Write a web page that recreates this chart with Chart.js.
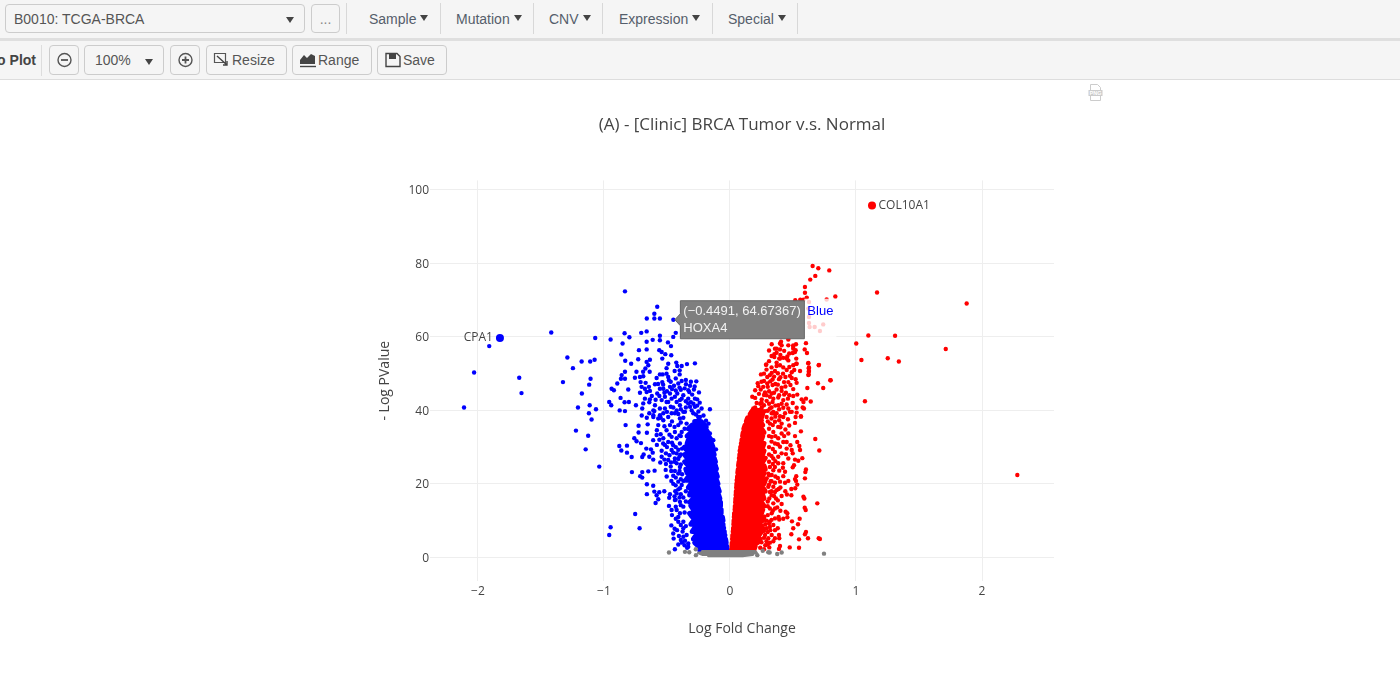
<!DOCTYPE html>
<html>
<head>
<meta charset="utf-8">
<title>BRCA volcano plot</title>
<script src="https://cdn.jsdelivr.net/npm/chart.js@4"></script>
<style>
  html, body { margin: 0; padding: 0; background: #fff; overflow: hidden; }
  body { width: 1400px; height: 700px; position: relative; font: 14px "Liberation Sans", Arial, sans-serif; color: #555; }
  #plot { position: absolute; left: 0; top: 0; width: 1400px; height: 700px; }
  .bar { position: absolute; left: 0; width: 1400px; background: #f5f5f5; overflow: hidden; }
  .bar > * { position: absolute; box-sizing: border-box; white-space: nowrap; }
  #bar1 { top: 0; height: 38px; }
  #bar2 { top: 41px; height: 38px; }
  #gap { position: absolute; top: 38px; left: 0; width: 1400px; height: 3px; background: #dfdfdf; }
  #line2 { position: absolute; top: 79px; left: 0; width: 1400px; height: 1px; background: #ddd; }
  .sep { top: 3px; width: 1px; height: 31px; background: #d8d8d8; }
  .btn { border: 1px solid #ccc; border-radius: 4px; background: #f5f5f5; height: 30px; line-height: 28px; }
  .menu { top: 11px; line-height: 17px; color: #555e6b; }
  .caret { position: absolute; width: 0; height: 0; border-left: 4px solid transparent; border-right: 4px solid transparent; border-top: 6px solid #444; }
  .btn svg { position: absolute; left: 6px; top: 5px; }
  #png { position: absolute; left: 1088px; top: 84px; }
</style>
</head>
<body>
<canvas id="plot" width="1400" height="700"></canvas>

<div class="bar" id="bar1">
  <div class="btn" style="left:5px;top:4px;width:300px;padding-left:8px;height:29px;">B0010: TCGA-BRCA<span class="caret" style="left:280px;top:12px"></span></div>
  <div class="btn" style="left:311px;top:4px;width:29px;height:29px;text-align:center;color:#888;">...</div>
  <div class="sep" style="left:346px"></div>
  <div class="menu" style="left:369px">Sample<span class="caret" style="left:51px;top:4px"></span></div>
  <div class="sep" style="left:440px"></div>
  <div class="menu" style="left:456px">Mutation<span class="caret" style="left:58px;top:4px"></span></div>
  <div class="sep" style="left:533px"></div>
  <div class="menu" style="left:549px">CNV<span class="caret" style="left:34px;top:4px"></span></div>
  <div class="sep" style="left:602px"></div>
  <div class="menu" style="left:619px">Expression<span class="caret" style="left:73px;top:4px"></span></div>
  <div class="sep" style="left:712px"></div>
  <div class="menu" style="left:728px">Special<span class="caret" style="left:50px;top:4px"></span></div>
  <div class="sep" style="left:797px"></div>
</div>
<div id="gap"></div>
<div class="bar" id="bar2">
  <div style="left:-100px;width:136px;text-align:right;top:11px;font-weight:bold;color:#444;">Volcano Plot</div>
  <div class="sep" style="left:41px;top:4px;background:#ddd"></div>
  <div class="btn" style="left:49px;top:4px;width:30px;">
    <svg width="18" height="18" viewBox="0 0 18 18"><circle cx="8.5" cy="9" r="6.5" fill="none" stroke="#555" stroke-width="1.4"/><path d="M5 9h7" stroke="#555" stroke-width="1.8"/></svg>
  </div>
  <div class="btn" style="left:84px;top:4px;width:80px;padding-left:10px;">100%<span class="caret" style="left:60px;top:13px"></span></div>
  <div class="btn" style="left:170px;top:4px;width:30px;">
    <svg width="18" height="18" viewBox="0 0 18 18"><circle cx="8.5" cy="9" r="6.5" fill="none" stroke="#555" stroke-width="1.4"/><path d="M5 9h7M8.5 5.5v7" stroke="#555" stroke-width="1.8"/></svg>
  </div>
  <div class="btn" style="left:206px;top:4px;width:81px;padding-left:25px;">Resize
    <svg width="18" height="18" viewBox="0 0 18 18"><path d="M1.5 2.5h11v9h-11z" fill="none" stroke="#555" stroke-width="1.2"/><path d="M4 5l10 9M14 10v4h-4" fill="none" stroke="#444" stroke-width="1.4"/></svg>
  </div>
  <div class="btn" style="left:292px;top:4px;width:80px;padding-left:25px;">Range
    <svg width="18" height="18" viewBox="0 0 18 18"><path d="M1 13V9l4-5 3 3 4-4 4 2v8z" fill="#444"/><path d="M1 15.5h16" stroke="#444" stroke-width="1.4"/></svg>
  </div>
  <div class="btn" style="left:377px;top:4px;width:70px;padding-left:25px;">Save
    <svg width="18" height="18" viewBox="0 0 18 18"><path d="M2 2.5h11l3 3v10H2z" fill="none" stroke="#444" stroke-width="1.4"/><path d="M5 3h7v5H5z" fill="#444"/></svg>
  </div>
</div>
<div id="line2"></div>
<svg id="png" width="15" height="17" viewBox="0 0 15 17">
  <path d="M2.5 .5h7l3 3v13h-10z" fill="#fff" stroke="#ccc"/>
  <rect x=".5" y="6" width="14" height="6" fill="#ccc"/>
  <text x="7.5" y="11" font-size="5.5" font-family="Liberation Sans" font-weight="bold" text-anchor="middle" fill="#fff">PNG</text>
</svg>

<script>
const titleText = '(A) - [Clinic] BRCA Tumor v.s. Normal';
const xTitle = 'Log Fold Change';
const yTitle = '- Log PValue';
const xTicks = [-2, -1, 0, 1, 2];
const yTicks = [0, 20, 40, 60, 80, 100];

const bigRed = [[1.127, 95.8]];
const bigBlue = [[-1.825, 59.7]];
const bigRedName = 'COL10A1';
const bigBlueName = 'CPA1';
const hoverPoint = [-0.4491, 64.67367];
const hoverName = 'HOXA4';
const hoverTrace = 'Blue';

// one [logFC, -logP] per visible dot
const bluePoints = [
  [-0.833,72.4],[-0.577,68.2],[-0.6,66.3],[-0.66,65],[-0.6,65],[-0.556,65],[-0.4491,64.67],[-1.418,61.2],[-1.069,59.7],
  [-1.91,57.5],[-2.03,50.3],[-1.672,48.9],[-1.654,44.7],[-2.11,40.8],[-1.29,54.4],[-1.246,51.5],[-1.177,53.3],[-1.109,53.3],
  [-1.074,53.8],[-1.325,47.7],[-1.106,48.6],[-1.117,47],[-1.175,44.6],[-1.206,40.8],[-1.113,41.4],[-1.063,40.3],[-1.119,39.2],
  [-1.098,37.5],[-1.222,34.5],[-1.125,33.1],[-1.145,29.4],[-1.037,24.7],[-0.828,36],[-0.725,35.8],[-0.725,34],[-0.659,33.9],
  [-0.759,32.4],[-0.741,31.6],[-0.706,31.1],[-0.878,30.3],[-0.817,30.4],[-0.862,29.1],[-0.817,28.5],[-0.78,27.3],[-0.778,23.2],
  [-0.696,23.2],[-0.712,22.1],[-0.696,21.7],[-0.648,23.4],[-0.598,23.6],[-0.659,19.9],[-0.609,19.5],[-0.659,17.2],[-0.6,17.9],
  [-0.561,17.7],[-0.521,18],[-0.582,16.9],[-0.569,15.8],[-0.59,14.8],[-0.752,11.8],[-0.717,7.9],[-0.947,8.2],[-0.958,6.1],
  [-0.484,14],[-0.447,5.1],[-0.437,2.2],[-0.465,8.7],[-0.439,7.8],[-0.405,5.8],[-0.381,4],[-0.664,29.6],[-0.627,29.4],
  [-0.58,30.6],[-0.542,29],[-0.685,28],[-0.696,27.3],[-0.613,28.5],[-0.64,27.4],[-0.609,26.6],[-0.542,27.4],[-0.553,25.8],
  [-0.508,25.4],[-0.51,23.8],[-0.468,25.8],[-0.466,23.5],[-0.437,23.5],[-0.45,22.2],[-0.502,22],[-0.465,20.8],[-0.431,19.6],
  [-0.434,18],[-0.476,17.2],[-0.482,16.2],[-0.431,15.7],[-0.463,12.9],[-0.653,36.2],[-0.582,33.3],[-0.609,31.9],[-0.529,32.4],
  [-0.516,30.6],[-0.508,28.3],[-0.58,34.6],
  [-0.836,61],[-0.704,61.1],[-0.661,61.5],[-0.798,59.9],[-0.947,59.3],[-0.852,58.2],[-0.556,60.3],[-0.556,59.1],[-0.613,59.2],
  [-0.661,58.7],[-0.43,61.1],[-0.45,60],[-0.492,58.5],[-0.468,57.5],[-0.661,56.6],[-0.722,56.4],[-0.561,56.4],[-0.542,55.9],
  [-0.513,55.3],[-0.466,55],[-0.862,55.2],[-0.537,54.1],[-0.728,53.9],[-0.831,53.5],[-0.784,52.7],[-0.635,53.8],[-0.661,53.2],
  [-0.648,52.3],[-0.49,52.7],[-0.426,53],[-0.418,52.1],[-0.383,52.1],[-0.341,52.6],[-0.278,52.8],[-0.439,50.7],[-0.399,50.9],
  [-0.399,49.8],[-0.503,51.5],[-0.671,51.4],[-0.689,50.5],[-0.742,50.5],[-0.637,50.5],[-0.833,50.5],[-0.859,49.6],[-0.833,48.6],
  [-0.865,48.6],[-0.894,47.3],[-0.714,49.1],[-0.688,49.3],[-0.754,48.9],[-0.709,47.7],[-0.556,49.8],[-0.534,49.8],[-0.503,50],
  [-0.49,49.1],[-0.582,48.8],[-0.484,48.2],[-0.537,47.7],[-0.669,47.5],[-0.595,47.1],[-0.643,46.4],[-0.701,46.4],[-0.675,45.9],
  [-0.714,44.8],[-0.661,45],[-0.635,45.3],[-0.939,45.9],[-0.921,45.5],[-0.807,45.7],[-0.868,43.4],[-0.836,42.2],[-0.802,42.3],
  [-0.958,42.3],[-0.942,41.4],[-0.746,41.4],[-0.875,40],[-0.833,39.8],[-0.696,40.5],[-0.635,43],[-0.688,41.9],[-0.675,43.2],
  [-0.577,44.6],[-0.556,45.9],[-0.529,45.9],[-0.476,46.4],[-0.444,46.7],[-0.41,47.3],[-0.383,48],[-0.349,47.1],[-0.317,46.7],
  [-0.267,47.9],[-0.286,45.7],[-0.246,44.9],[-0.323,45],[-0.418,44.6],[-0.476,44.6],[-0.516,43.7],[-0.542,42.8],[-0.503,42.3],
  [-0.463,43.2],[-0.423,42.3],[-0.383,43.2],[-0.331,43.2],[-0.278,43.2],[-0.278,41],[-0.225,40.5],[-0.159,40.3],[-0.238,38.2],
  [-0.317,41],[-0.397,41.4],[-0.516,40.5],[-0.556,40.5],[-0.595,41.4],[-0.608,40],[-0.608,38.2],[-0.569,37.8],[-0.529,39.2],
  [-0.397,18.8],[-0.423,17.4],[-0.37,16.3],[-0.397,15.1],[-0.37,13.8],[-0.423,12.9],[-0.41,11],[-0.37,9.7],[-0.41,9.7],
  [-0.37,7.9],[-0.344,6.1],[-0.331,3.8],[-0.331,2.9],[-0.357,4.5],[-0.376,7],[-0.397,12],[-0.437,15.6],[-0.41,20.6],
  [-0.383,19.7],[-0.41,22.8],[-0.397,24.6],[-0.423,25.6],[-0.437,26.9],[-0.423,28.3],[-0.463,29.2],[-0.45,30.5],[-0.49,31.4],
  [-0.463,32.8],[-0.437,34.1],[-0.503,34.6],[-0.476,36],[-0.529,37.3],[-0.569,36],[-0.608,38.7],[-0.556,38.7],[-0.49,38.2],
  [-0.437,39.2],[-0.397,37.8],[-0.357,39.6],[-0.291,39.2],[-0.252,38.2],[-0.225,36],[-0.159,33.7],[-0.185,35.5],[-0.111,29.4],
  [-0.132,31.9],[-0.106,24.2],[-0.41,36],[-0.383,34.1],[-0.344,36.4],[-0.304,34.6],[-0.423,32.4],[-0.397,31]
];

// the thick band just above and left of the solid blue wedge, estimated
const blueBand = [
  [-0.49,42.3],[-0.437,43.7],[-0.397,42.8],[-0.37,44.1],[-0.331,41.9],[-0.304,40],[-0.37,39.6],[-0.423,40],[-0.463,39.2],[-0.5,39.6],
  [-0.55,38],[-0.47,41],[-0.45,40.8],[-0.41,39],[-0.39,40.3],[-0.35,40.8],[-0.35,42.5],[-0.31,42.2],[-0.29,41.8],[-0.26,41.3],
  [-0.25,39.7],[-0.27,38.9],[-0.21,38.6],[-0.19,37.2],[-0.17,36.4],[-0.3,44.3],[-0.33,45.5],[-0.36,46],[-0.39,45.6],[-0.43,45.4],
  [-0.46,45.8],[-0.5,45.2],[-0.52,44.8],[-0.56,43.9],[-0.59,42.9],[-0.62,43.9],[-0.64,42.2],[-0.6,39.8],[-0.64,39.2],[-0.66,38],
  [-0.7,38.6],[-0.57,47.2],[-0.53,47],[-0.47,47.8],[-0.43,48.7],[-0.4,46.2],[-0.35,48.3],[-0.31,47.8],[-0.28,46.5],[-0.26,43],
  [-0.24,42.1],[-0.39,36.7],[-0.37,38],[-0.36,35],[-0.4,33.2],[-0.44,35.5],[-0.46,37],[-0.48,33.4],[-0.52,35.7],[-0.55,33.5],
  [-0.5,30],[-0.53,31],[-0.56,32],[-0.46,31.2],[-0.43,30],[-0.41,29.3],[-0.48,27.8],[-0.45,28.5],[-0.52,26.6],[-0.44,26],
  [-0.47,24.7],[-0.49,26.5],[-0.41,26.8],[-0.39,28],[-0.4,23.5],[-0.43,21.7],[-0.39,21.3],[-0.45,20],[-0.41,18.5],[-0.39,17.2],
  [-0.44,16.6],[-0.4,16.3],[-0.46,11.5],[-0.43,10.5],[-0.39,8.8],[-0.42,7.4],[-0.35,8.5],[-0.37,5.6],[-0.39,4.7],[-0.36,3.3],
  [-0.34,2.6],[-0.41,3.5],[-0.45,6.5],[-0.43,13.8],[-0.39,14.2],[-0.36,12.2],[-0.35,15.2],[-0.35,18],[-0.37,20.8],[-0.38,22.6],
  [-0.39,25.3],[-0.4,27.5],[-0.38,29.6],[-0.39,33]
];

const redPoints = [
  [0.656,79.3],[0.701,78.7],[0.788,78.1],[0.677,76.6],[0.637,75.6],[0.595,73.6],[0.595,72],[0.836,71],[1.167,72.1],[1.878,69.1],
  [0.609,70.7],[0.583,70.1],[0.558,70.1],[0.518,70],[0.767,70.2],[0.627,69.5],[0.622,67.7],[0.627,65.4],[0.627,63.8],[0.672,62.7],
  [0.714,61.6],[0.74,63.4],[0.632,62.7],[1.098,60.4],[1.31,60.3],[1.002,58.2],[1.712,56.7],[1.043,53.7],[1.252,54.2],[1.34,53.3],
  [1.071,42.5],[0.704,52.3],[0.796,48.2],[0.698,47.4],[0.74,46.1],[2.28,22.4],[0.397,58.2],[0.463,59.3],[0.502,57.3],[0.357,56.8],
  [0.516,55.9],[0.45,54.1],[0.397,54.1],[0.286,52.4],[0.529,52.7],[0.622,52.9],[0.627,51.7],[0.625,50.5],[0.622,49.6],
  [0.331,58],[0.405,58.7],[0.41,57.7],[0.37,56.8],[0.397,56.6],[0.463,57.7],[0.502,57.7],[0.524,58],[0.502,56.8],[0.521,56.4],
  [0.498,55.6],[0.603,58.3],[0.593,56.6],[0.611,55.6],[0.352,55.3],[0.352,54.5],[0.391,54.1],[0.423,54.3],[0.455,54.7],[0.463,53.6],
  [0.526,54.1],[0.37,53],[0.37,52.1],[0.397,52.3],[0.288,52.5],[0.423,51.7],[0.471,51.8],[0.502,52.3],[0.526,52.7],[0.621,52.8],
  [0.706,52.4],[0.625,51.5],[0.627,50.7],[0.625,49.8],[0.556,50.7],[0.357,50.7],[0.331,50.2],[0.317,49.6],[0.296,49.1],[0.246,49.8],
  [0.421,50],[0.389,48.5],[0.338,48.4],[0.429,47.7],[0.463,47.7],[0.476,49.4],[0.49,48.8],[0.521,48.5],[0.529,47.5],[0.799,48.2],
  [0.614,46.1],[0.296,47.3],[0.338,46.9],[0.264,46.4],[0.225,46.6],[0.244,45.7],[0.278,44.9],[0.331,44.6],[0.41,46.2],[0.41,45.3],
  [0.444,44.8],[0.471,44.1],[0.502,45.8],[0.502,43.9],[0.534,44.3],[0.383,43.5],[0.423,42.8],[0.344,43.2],[0.317,43.7],[0.177,43.7],
  [0.212,42],[0.252,43],[0.291,42.6],[0.338,42.3],[0.498,42],[0.569,43],[0.603,43.2],[0.583,42.3],[0.641,42.4],[0.383,41.4],
  [0.423,40.7],[0.463,40.5],[0.529,40.7],[0.577,40.8],[0.587,40.5],[0.185,40.5],[0.252,40.8],[0.317,40.5],[0.278,39.8],[0.172,39.6],
  [0.344,39.6],[0.49,39.6],[0.529,39.4],[0.437,39.2],[0.397,38.4],[0.521,38.2],[0.563,38.3],[0.344,39.2],
  [0.563,38.4],[0.516,36.6],[0.563,34.3],[0.677,32.2],[0.709,29.1],[0.516,33],[0.463,33.7],[0.534,31.4],[0.55,30.3],[0.556,29.2],
  [0.45,29.6],[0.49,29.2],[0.498,28.3],[0.444,28.1],[0.542,26.3],[0.574,27],[0.516,26.6],[0.463,26.9],[0.423,25.6],[0.508,25.1],
  [0.498,24.5],[0.603,23.9],[0.598,23.2],[0.437,23.3],[0.391,23.6],[0.423,22.1],[0.526,22.1],[0.516,21.3],[0.595,21.5],[0.463,20.8],
  [0.437,20.3],[0.524,20.8],[0.534,19.8],[0.397,20.6],[0.357,20.3],[0.323,20.7],[0.487,18.6],[0.518,18.8],[0.439,18],[0.452,17.1],
  [0.487,16.9],[0.386,18.6],[0.357,17.8],[0.583,16.5],[0.59,16],[0.693,14.7],[0.41,14.5],[0.375,13.6],[0.593,13.5],[0.601,12.9],
  [0.442,12.4],[0.455,12],[0.386,11],[0.391,10.3],[0.423,10.5],[0.455,10.9],[0.492,9.8],[0.553,10.5],[0.54,9],[0.502,7.9],
  [0.379,7.9],[0.344,8.8],[0.487,6.3],[0.603,6.9],[0.595,6.3],[0.389,6.1],[0.391,5.2],[0.548,4.9],[0.619,5.2],[0.704,5.2],
  [0.714,5],[0.344,4.4],[0.317,4],[0.397,3.1],[0.389,2.3],[0.474,2.7],[0.548,2.6],[0.312,2.7],
  [0.357,7.4],[0.317,8.3],[0.291,7.9],[0.278,6.1],[0.331,6.1],[0.357,5.2],[0.304,5.2],[0.317,9.7],[0.357,10.6],[0.331,12],
  [0.357,13.3],[0.317,13.3],[0.344,14.7],[0.312,16],[0.331,16.9],[0.365,16],[0.317,17.8],[0.37,18.3],[0.304,19.2],[0.344,19.2],
  [0.291,21.5],[0.331,22.4],[0.304,22.8],[0.344,23.7],[0.317,24.6],[0.357,24.6],[0.383,25.6],[0.344,26.9],[0.383,27.4],[0.41,28.3],
  [0.357,28.7],[0.397,30.1],[0.357,31],[0.423,31.4],[0.383,32.4],[0.331,32.8],[0.41,33.7],[0.344,34.1],[0.383,35.5],[0.317,36.4],
  [0.357,36.9],[0.41,36.4],[0.423,38.2],[0.331,39.2],[0.37,39.2],[0.476,39.6],[0.252,37.3],[0.291,38.2]
];

// same for the band above and right of the solid red wedge, estimated
const redBand = [
  [0.2,40.8],[0.22,39.5],[0.24,41.8],[0.26,39.2],[0.27,41.4],[0.3,39.9],[0.31,41.8],[0.33,40.8],[0.36,41.3],[0.39,40.3],
  [0.41,41.8],[0.45,41.6],[0.2,43.4],[0.23,44.5],[0.25,42.2],[0.27,44.2],[0.29,44.1],[0.31,45.2],[0.35,44.8],[0.37,45.7],
  [0.39,44.1],[0.43,44.3],[0.46,43.2],[0.2,45.5],[0.22,47.4],[0.25,47.8],[0.27,48],[0.3,46.4],[0.32,47.9],[0.36,47.2],
  [0.38,47],[0.44,46.5],[0.48,46.9],[0.27,50],[0.29,51.1],[0.33,51.7],[0.35,49.2],[0.38,50.1],[0.4,49],[0.44,49.1],
  [0.45,51],[0.49,50.4],[0.51,51],[0.31,53.4],[0.33,54.8],[0.37,55.7],[0.4,55.1],[0.43,56.2],[0.47,55.5],[0.31,56.3],
  [0.3,37],[0.31,35],[0.33,37.8],[0.34,36],[0.36,38.3],[0.39,37.3],[0.31,33],[0.33,31.5],[0.31,30],[0.34,29.5],
  [0.36,33],[0.38,30.8],[0.31,28],[0.33,27.6],[0.36,26.2],[0.31,26],[0.34,25.4],[0.31,22.3],[0.33,20.7],[0.36,22],
  [0.38,21.6],[0.31,19.8],[0.33,18],[0.35,16.7],[0.3,15.2],[0.3,13.9],[0.34,12.7],[0.3,11.5],[0.33,10.2],[0.29,10],
  [0.31,9.2],[0.28,9],[0.27,7.2],[0.3,6.9],[0.32,7.4],[0.27,5.3],[0.29,4.4],[0.25,4.1],[0.28,3.3],[0.24,2.6],
  [0.27,2.2],[0.3,3.5],[0.4,12.7],[0.38,15.5],[0.41,16.7],[0.4,19],[0.42,24.4],[0.45,31.4],[0.44,34.8],[0.47,35.9],
  [0.46,37.6],[0.48,30.5],[0.43,33],[0.4,35.4]
];

const greyPoints = [
  [-0.484,1.3],[-0.357,1.5],[-0.323,1.4],[-0.271,2.2],[-0.27,0.6],[0.217,0.6],[0.304,1.4],[0.315,1.3],[0.375,0.9],[0.41,1.3],[0.746,1],[0.26,1.8]
];

// dense wedges, too packed to read dot by dot: left and right edge per row
const blueCoreY =     [2,3,4,5,6,7,8,9,10,11,12,13,14,15,16,17,18,19,20,21,22,23,24,25,26,27,28,29,30,31,32,33,34,35,36,37];
const blueCoreLeft =  [-.24,-.25,-.28,-.29,-.27,-.3,-.28,-.31,-.29,-.3,-.32,-.29,-.31,-.32,-.29,-.32,-.31,-.33,-.31,-.35,-.33,-.34,-.35,-.33,-.36,-.34,-.36,-.34,-.36,-.34,-.33,-.34,-.31,-.33,-.3,-.28];
const blueCoreRight = [-.02,-.025,-.03,-.035,-.04,-.045,-.05,-.055,-.055,-.06,-.07,-.07,-.075,-.075,-.08,-.09,-.085,-.095,-.095,-.105,-.1,-.11,-.11,-.115,-.115,-.125,-.125,-.135,-.135,-.145,-.15,-.17,-.175,-.195,-.2,-.23];
const redCoreY =      [2,3,4,5,6,7,8,9,10,11,12,13,14,15,16,17,18,19,20,21,22,23,24,25,26,27,28,29,30,31,32,33,34,35,36,37,38,39,40];
const redCoreLeft =   [.012,.016,.018,.02,.022,.025,.028,.03,.032,.034,.036,.04,.042,.044,.046,.048,.05,.052,.054,.056,.06,.062,.066,.068,.072,.074,.078,.08,.085,.09,.095,.1,.105,.11,.12,.13,.14,.16,.18];
const redCoreRight =  [.19,.2,.22,.24,.23,.25,.26,.24,.26,.27,.25,.26,.27,.25,.27,.26,.28,.26,.27,.28,.26,.27,.28,.27,.26,.28,.26,.27,.26,.27,.25,.26,.27,.25,.26,.24,.25,.26,.25];
const greyCoreY =     [0.4,0.8,1.2,1.6];
const greyCoreLeft =  [-.17,-.22,-.25,-.22];
const greyCoreRight = [.1,.18,.21,.2];

function toXY(pairs) {
  return pairs.map(p => ({ x: p[0], y: p[1] }));
}

// walk the rows left-right-right-left so a thick line covers the wedge
function zigzag(rows, left, right) {
  const out = [];
  rows.forEach((y, i) => {
    if (i % 2 === 0) out.push({ x: left[i], y }, { x: right[i], y });
    else out.push({ x: right[i], y }, { x: left[i], y });
  });
  return out;
}

function coreSet(rows, left, right, color, width, order) {
  return {
    data: zigzag(rows, left, right), showLine: true, borderColor: color, borderWidth: width,
    borderJoinStyle: 'round', borderCapStyle: 'round', pointRadius: 0, order
  };
}

function dotSet(pairs, color, radius, order) {
  return { data: toXY(pairs), backgroundColor: color, pointRadius: radius, pointBorderWidth: 0, order };
}

// point labels and the frozen hover box, hung on the scale position of their point
const annotations = {
  id: 'annotations',
  afterDatasetsDraw(chart) {
    const { ctx, scales } = chart;
    const px = scales.x.getPixelForValue.bind(scales.x);
    const py = scales.y.getPixelForValue.bind(scales.y);
    ctx.save();
    ctx.textBaseline = 'middle';
    ctx.font = '12px "Open Sans"';
    ctx.fillStyle = '#444';
    ctx.textAlign = 'left';
    ctx.fillText(bigRedName, px(bigRed[0][0]) + 6.5, py(bigRed[0][1]));
    ctx.textAlign = 'right';
    ctx.fillText(bigBlueName, px(bigBlue[0][0]) - 7, py(bigBlue[0][1]));

    const hx = px(hoverPoint[0]);
    const hy = py(hoverPoint[1]);
    ctx.fillStyle = 'rgba(255,255,255,0.8)';
    ctx.fillRect(hx + 131, hy - 21, 32, 39);
    ctx.beginPath();
    ctx.moveTo(hx + 1.5, hy);
    ctx.lineTo(hx + 7, hy - 6);
    ctx.lineTo(hx + 7, hy - 19);
    ctx.lineTo(hx + 131, hy - 19);
    ctx.lineTo(hx + 131, hy + 19);
    ctx.lineTo(hx + 7, hy + 19);
    ctx.lineTo(hx + 7, hy + 6);
    ctx.closePath();
    ctx.fillStyle = '#7f7f7f';
    ctx.fill();
    ctx.strokeStyle = '#666';
    ctx.stroke();
    ctx.textAlign = 'left';
    ctx.fillStyle = '#f2f2f2';
    ctx.font = '13px "Liberation Sans"';
    ctx.fillText('(\u2212' + Math.abs(hoverPoint[0]) + ', ' + hoverPoint[1] + ')', hx + 10, hy - 8);
    ctx.fillText(hoverName, hx + 10, hy + 9);
    ctx.fillStyle = '#0000ff';
    ctx.fillText(hoverTrace, hx + 134, hy - 8);
    ctx.restore();
  }
};

new Chart(document.getElementById('plot'), {
  type: 'scatter',
  data: {
    datasets: [
      coreSet(greyCoreY, greyCoreLeft, greyCoreRight, '#808080', 3, 1),
      dotSet(greyPoints, '#808080', 2.2, 2),
      dotSet(bigRed, '#ff0000', 4, 3),
      dotSet(bigBlue, '#0000ff', 4, 3),
      dotSet(redPoints, '#ff0000', 2.2, 4),
      dotSet(redBand, '#ff0000', 2.2, 4),
      dotSet(bluePoints, '#0000ff', 2.2, 4),
      dotSet(blueBand, '#0000ff', 2.2, 4),
      coreSet(redCoreY, redCoreLeft, redCoreRight, '#ff0000', 5, 5),
      coreSet(blueCoreY, blueCoreLeft, blueCoreRight, '#0000ff', 5, 5)
    ]
  },
  options: {
    responsive: false,
    animation: false,
    events: [],
    devicePixelRatio: 1,
    layout: { padding: { top: 115, right: 346, left: 0, bottom: 0 } },
    plugins: {
      legend: { display: false },
      tooltip: { enabled: false },
      title: {
        display: true, text: titleText, fullSize: false, color: '#444',
        font: { family: '"Open Sans"', size: 17, weight: 'normal', lineHeight: 1.2 },
        padding: { top: 0, bottom: 45 }
      }
    },
    scales: {
      x: {
        type: 'linear', min: -2.38, max: 2.571,
        afterFit(scale) { scale.height = 119; },
        afterBuildTicks(scale) { scale.ticks = xTicks.map(value => ({ value })); },
        grid: { color: '#eeeeee', drawTicks: false },
        border: { display: false },
        ticks: {
          color: '#444', padding: 3, maxRotation: 0, autoSkip: false,
          font: { family: '"Open Sans"', size: 12 },
          callback: v => String(v).replace('-', '\u2212')
        },
        title: { display: true, text: xTitle, color: '#444', font: { family: '"Open Sans"', size: 14 }, padding: 63 }
      },
      y: {
        type: 'linear', min: -6.44, max: 102.6,
        afterFit(scale) { scale.width = 430; },
        afterBuildTicks(scale) { scale.ticks = yTicks.map(value => ({ value })); },
        grid: { color: '#eeeeee', drawTicks: false },
        border: { display: false },
        ticks: { color: '#444', padding: 1, labelOffset: 1, autoSkip: false, font: { family: '"Open Sans"', size: 12 } },
        title: { display: true, text: yTitle, color: '#444', font: { family: '"Open Sans"', size: 14 }, padding: 377 }
      }
    }
  },
  plugins: [annotations]
});
</script>
</body>
</html>
